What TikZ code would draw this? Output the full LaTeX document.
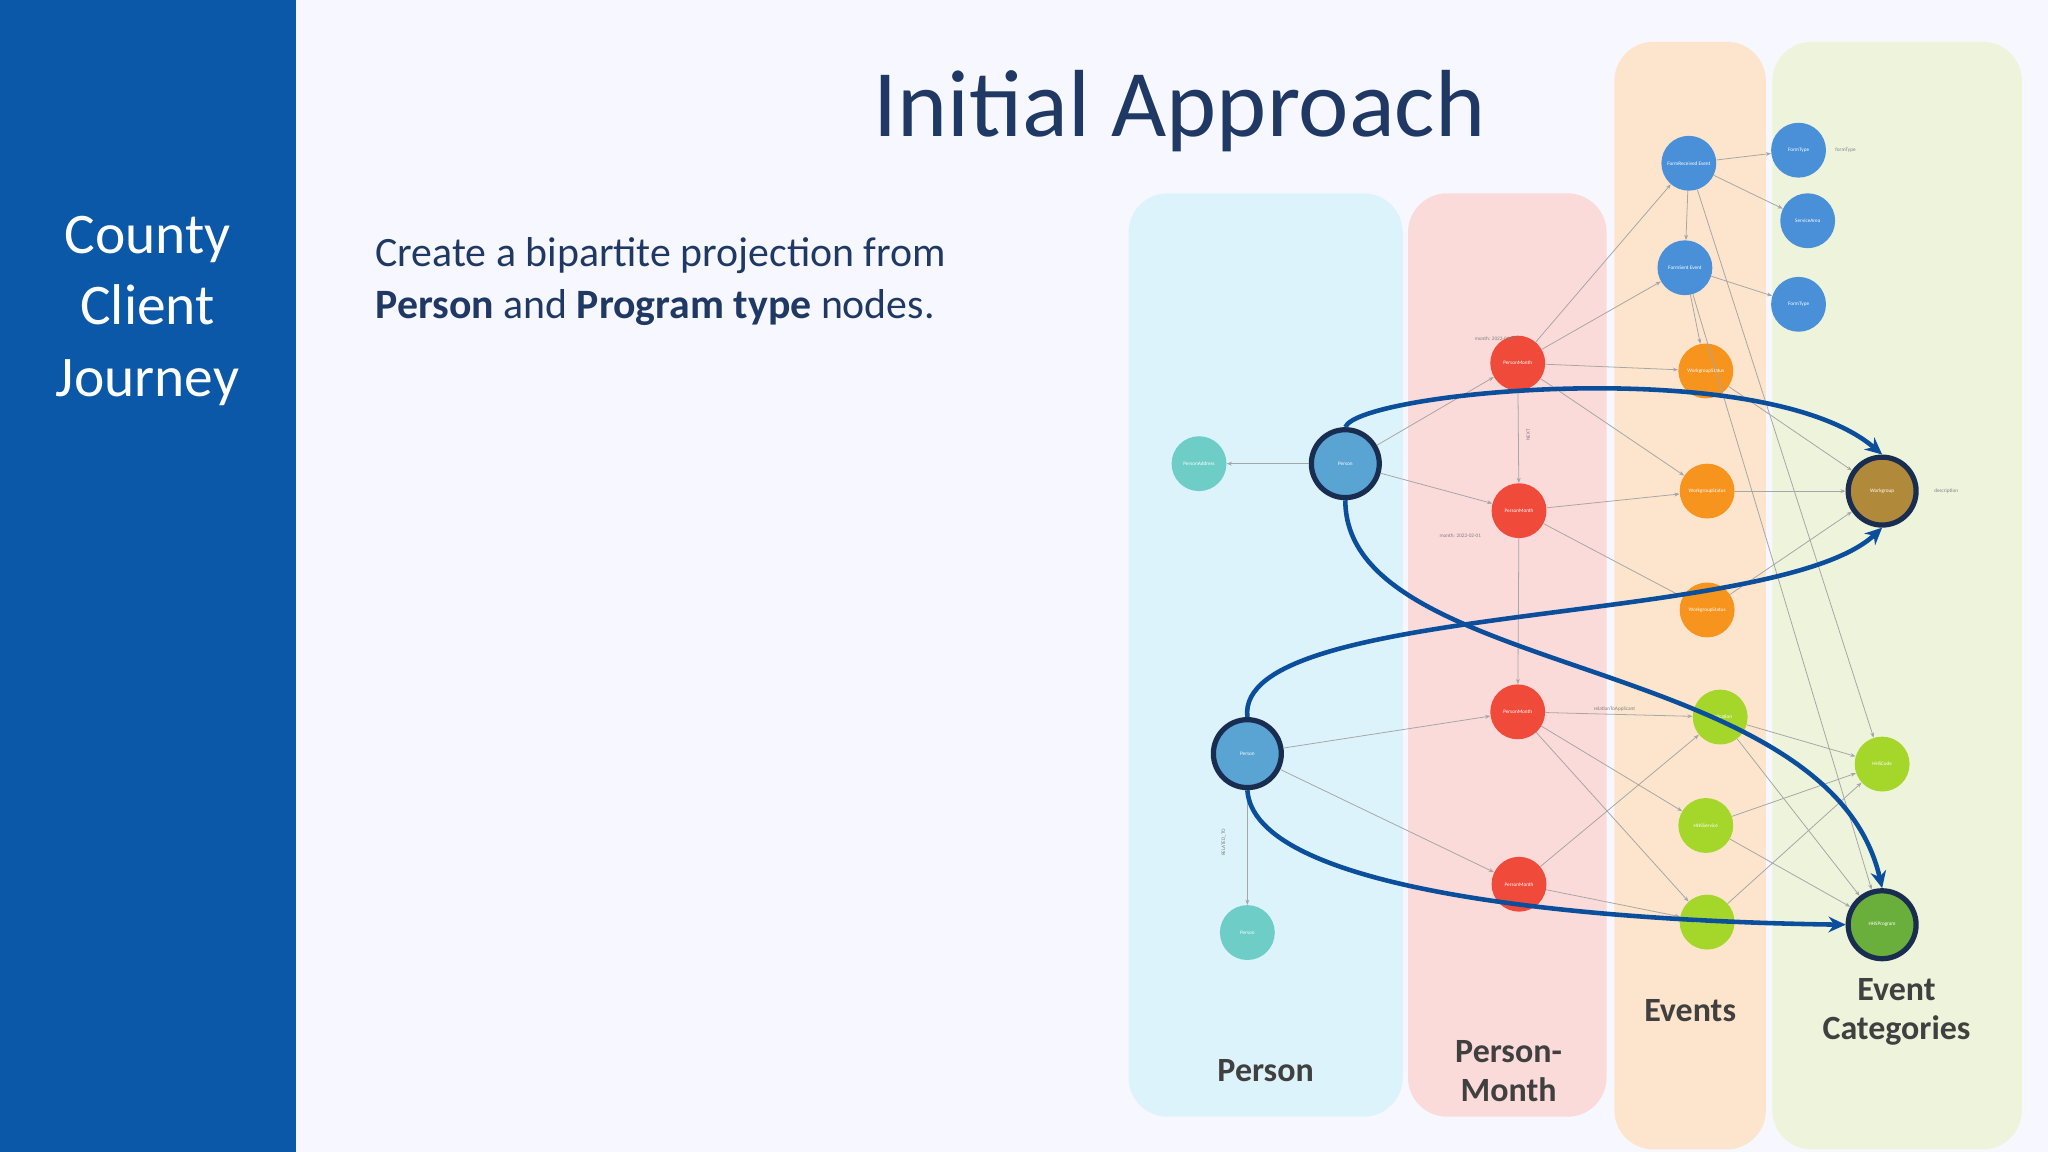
\documentclass[tikz,border=0pt]{standalone}
\usepackage{fontspec}
\setmainfont{Carlito}
\usetikzlibrary{arrows.meta}
\definecolor{side}{HTML}{0B58A8}
\definecolor{navy}{HTML}{1F3864}
\definecolor{colP}{HTML}{DDF3FB}
\definecolor{colM}{HTML}{FBDADA}
\definecolor{colE}{HTML}{FCE5CC}
\definecolor{colC}{HTML}{EEF3DC}
\definecolor{teal}{HTML}{6FCDC8}
\definecolor{red}{HTML}{F04A3A}
\definecolor{nblue}{HTML}{4A90D9}
\definecolor{orng}{HTML}{F7941D}
\definecolor{grn}{HTML}{A5D62A}
\definecolor{brn}{HTML}{B08A3A}
\definecolor{dgrn}{HTML}{6AAF3C}
\definecolor{arr}{HTML}{0B4F9C}
\tikzset{
 col/.style={rounded corners=30pt,draw=none},
 nd/.style={circle,minimum size=42pt,inner sep=0pt,font=\fontsize{4}{4}\selectfont,text=white},
 big/.style={nd,minimum size=52pt,draw=navy!80!black,line width=4pt},
 edge/.style={draw=gray!70,line width=0.6pt,-{Stealth[length=4pt]}},
 flow/.style={draw=arr,line width=3.5pt,-{Stealth[length=13pt,width=12pt]}},
 lab/.style={font=\fontsize{26}{30}\selectfont\bfseries,text=black!75,align=center},
 tiny/.style={font=\fontsize{4}{5}\selectfont,text=gray}
}
\begin{document}
\begin{tikzpicture}[x=1pt,y=-1pt]
\useasboundingbox (0,0) rectangle (1568,882);
\fill[white!97!blue] (0,0) rectangle (1568,882);
\fill[side] (0,0) rectangle (227,882);
\node[text=white,align=center,font=\fontsize{44}{55}\selectfont] (side) at (113,238) {County\\Client\\Journey};
\node[text=navy,font=\fontsize{73}{80}\selectfont] (title) at (903,85) {Initial Approach};
\node[text=navy,anchor=north west,align=left,font=\fontsize{32}{40}\selectfont] (body) at (284,178) {Create a bipartite projection from\\\textbf{Person} and \textbf{Program type} nodes.};
% columns
\fill[col,colP] (864,148) rectangle (1074,855);
\fill[col,colM] (1078,148) rectangle (1230,855);
\fill[col,colE] (1236,32) rectangle (1352,880);
\fill[col,colC] (1357,32) rectangle (1548,880);
\node[lab] (lp) at (969,820) {Person};
\node[lab] (lm) at (1155,820) {Person-\\Month};
\node[lab] (le) at (1294,774) {Events};
\node[lab] (lc) at (1452,775) {Event\\Categories};
% nodes
\node[nd,fill=teal] (pa) at (918,355) {PersonAddress};
\node[big,fill=teal!80!blue] (p1) at (1030,355) {Person};
\node[big,fill=teal!80!blue] (p2) at (955,577) {Person};
\node[nd,fill=teal] (pb) at (955,714) {Person};
\node[nd,fill=red] (m1) at (1162,278) {PersonMonth};
\node[nd,fill=red] (m2) at (1163,391) {PersonMonth};
\node[nd,fill=red] (m3) at (1162,545) {PersonMonth};
\node[nd,fill=red] (m4) at (1163,677) {PersonMonth};
\node[nd,fill=nblue] (e1) at (1293,125) {FormReceived Event};
\node[nd,fill=nblue] (e2) at (1290,205) {FormSent Event};
\node[nd,fill=orng] (e3) at (1306,284) {WorkgroupStatus};
\node[nd,fill=orng] (e4) at (1307,376) {WorkgroupStatus};
\node[nd,fill=orng] (e5) at (1307,467) {WorkgroupStatus};
\node[nd,fill=grn] (e6) at (1317,549) {Application};
\node[nd,fill=grn] (e7) at (1306,632) {HHSService};
\node[nd,fill=grn] (e8) at (1307,706) {Enrollment};
\node[nd,fill=nblue] (c1) at (1377,115) {FormType};
\node[nd,fill=nblue] (c2) at (1384,169) {ServiceArea};
\node[nd,fill=nblue] (c3) at (1377,233) {FormType};
\node[big,fill=brn] (c4) at (1441,376) {Workgroup};
\node[nd,fill=grn] (c5) at (1441,585) {HHSCode};
\node[big,fill=dgrn] (c6) at (1441,708) {HHSProgram};
% gray edges
\foreach \a/\b in {p1/pa,p1/m1,p1/m2,p2/m3,p2/m4,p2/pb,m1/e1,m1/e2,m1/e3,m1/e4,m1/m2,m2/e4,m2/e5,m2/m3,m3/e6,m3/e7,m3/e8,m4/e6,m4/e8,e1/c1,e1/c2,e1/e2,e2/c3,e2/e3,e3/c4,e4/c4,e5/c4,e6/c5,e6/c6,e7/c5,e7/c6,e8/c5,e8/c6,e1/c5,e2/c6}
  \draw[edge] (\a) -- (\b);
\node[tiny] (t1) at (1145,259) {month: 2022-01-01};
\node[tiny] (t2) at (1118,410) {month: 2022-02-01};
\node[tiny,rotate=90] (t3) at (1170,333) {NEXT};
\node[tiny] (t4) at (1236,543) {relationToApplicant};
\node[tiny,rotate=90] (t5) at (937,645) {RELATED\_TO};
\node[tiny] (t6) at (1490,376) {description};
\node[tiny] (t7) at (1413,115) {formType};
% flow arrows
\draw[flow] (p1.north) .. controls (1040,300) and (1350,270) .. (c4.north);
\draw[flow] (p1.south) .. controls (1030,520) and (1400,500) .. (c6.north);
\draw[flow] (p2.north) .. controls (945,460) and (1360,480) .. (c4.south);
\draw[flow] (p2.south) .. controls (960,680) and (1200,705) .. (c6.west);
\end{tikzpicture}
\end{document}
